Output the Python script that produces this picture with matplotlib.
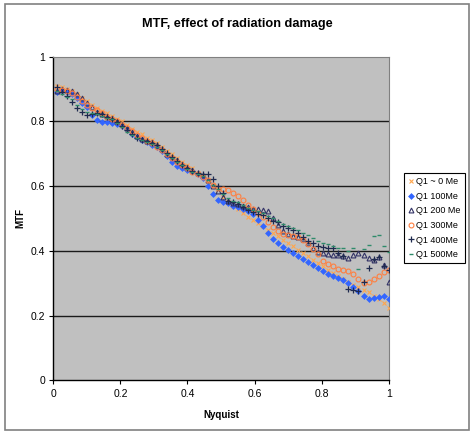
import matplotlib.pyplot as plt
from matplotlib.patches import Rectangle

plt.rcParams['font.family'] = ['Liberation Sans', 'DejaVu Sans']

# sample positions (fraction of Nyquist)
nyquist = [0.010, 0.025, 0.040, 0.055, 0.070, 0.085, 0.100, 0.115, 0.130, 0.145,
           0.160, 0.175, 0.190, 0.205, 0.220, 0.235, 0.250, 0.265, 0.280, 0.295,
           0.310, 0.325, 0.340, 0.355, 0.370, 0.385, 0.400, 0.415, 0.430, 0.445,
           0.460, 0.475, 0.490, 0.505, 0.520, 0.535, 0.550, 0.565, 0.580, 0.595,
           0.610, 0.625, 0.640, 0.655, 0.670, 0.685, 0.700, 0.715, 0.730, 0.745,
           0.760, 0.775, 0.790, 0.805, 0.820, 0.835, 0.850, 0.865, 0.880, 0.895,
           0.910, 0.925, 0.940, 0.955, 0.970, 0.985, 1.000]

mtf_0me = [0.910, 0.905, 0.900, 0.895, 0.885, 0.872, 0.862, 0.850, 0.842, 0.833,
           0.825, 0.818, 0.808, 0.800, 0.790, 0.778, 0.768, 0.760, 0.750, 0.742,
           0.733, 0.722, 0.710, 0.700, 0.688, 0.676, 0.665, 0.655, 0.642, 0.630,
           0.617, 0.603, 0.590, 0.565, 0.552, 0.540, 0.528, 0.517, 0.505, 0.494,
           0.486, 0.476, 0.466, 0.455, 0.445, 0.434, 0.424, 0.414, 0.403, 0.394,
           0.384, 0.373, 0.362, 0.352, 0.342, 0.332, 0.322, 0.313, 0.303, 0.296,
           0.288, 0.280, 0.272, 0.262, 0.250, 0.238, 0.225]

mtf_100me = [0.890, 0.895, 0.892, 0.885, 0.872, 0.858, 0.845, 0.820, 0.803, 0.798,
             0.797, 0.795, 0.793, 0.785, 0.775, 0.762, 0.752, 0.743, 0.735, 0.728,
             0.720, 0.708, 0.693, 0.675, 0.663, 0.655, 0.650, 0.646, 0.638, 0.625,
             0.600, 0.575, 0.556, 0.552, 0.547, 0.540, 0.534, 0.528, 0.522, 0.515,
             0.495, 0.476, 0.455, 0.437, 0.423, 0.412, 0.402, 0.393, 0.384, 0.375,
             0.366, 0.356, 0.347, 0.338, 0.330, 0.322, 0.316, 0.310, 0.300, 0.288,
             0.276, 0.262, 0.252, 0.253, 0.258, 0.260, 0.252]

mtf_200me = [0.895, 0.900, 0.898, 0.893, 0.885, 0.872, 0.858, 0.845, 0.830, 0.822,
             0.818, 0.812, 0.802, 0.792, 0.780, 0.768, 0.755, 0.745, 0.740, 0.735,
             0.728, 0.715, 0.700, 0.690, 0.680, 0.668, 0.658, 0.650, 0.642, 0.633,
             0.618, 0.600, 0.584, 0.566, 0.555, 0.548, 0.545, 0.540, 0.535, 0.530,
             0.528, 0.527, 0.522, 0.500, 0.480, 0.462, 0.452, 0.447, 0.443, 0.438,
             0.425, 0.410, 0.398, 0.392, 0.390, 0.388, 0.388, 0.383, 0.378, 0.388,
             0.392, 0.387, 0.378, 0.372, 0.380, 0.355, 0.305]

mtf_300me = [0.900, 0.898, 0.893, 0.888, 0.875, 0.862, 0.852, 0.842, 0.835, 0.825,
             0.815, 0.808, 0.800, 0.790, 0.780, 0.770, 0.758, 0.748, 0.740, 0.732,
             0.722, 0.712, 0.700, 0.688, 0.675, 0.665, 0.655, 0.645, 0.638, 0.628,
             0.618, 0.605, 0.595, 0.592, 0.588, 0.580, 0.568, 0.557, 0.543, 0.530,
             0.518, 0.505, 0.490, 0.475, 0.462, 0.452, 0.448, 0.445, 0.442, 0.435,
             0.420, 0.405, 0.390, 0.370, 0.360, 0.352, 0.345, 0.342, 0.338, 0.328,
             0.312, 0.302, 0.305, 0.312, 0.322, 0.335, 0.342]

mtf_400me = [0.905, 0.892, 0.878, 0.860, 0.842, 0.828, 0.820, 0.823, 0.826, 0.822,
             0.815, 0.808, 0.798, 0.786, 0.772, 0.760, 0.750, 0.742, 0.738, 0.733,
             0.726, 0.716, 0.702, 0.690, 0.678, 0.666, 0.656, 0.648, 0.642, 0.638,
             0.636, 0.622, 0.600, 0.578, 0.555, 0.550, 0.545, 0.535, 0.527, 0.520,
             0.515, 0.510, 0.500, 0.492, 0.488, 0.478, 0.470, 0.466, 0.455, 0.442,
             0.432, 0.424, 0.416, 0.411, 0.410, 0.408, 0.392, 0.385, 0.282, 0.278,
             0.275, 0.305, 0.348, 0.375, 0.380, 0.352, 0.340]

mtf_500me = [0.895, 0.885, 0.876, 0.868, 0.852, 0.838, 0.828, 0.825, 0.822, 0.818,
             0.812, 0.806, 0.796, 0.784, 0.768, 0.757, 0.748, 0.742, 0.736, 0.730,
             0.722, 0.712, 0.700, 0.688, 0.676, 0.664, 0.654, 0.645, 0.638, 0.630,
             0.618, 0.604, 0.590, 0.575, 0.563, 0.555, 0.550, 0.542, 0.533, 0.527,
             0.522, 0.516, 0.508, 0.500, 0.492, 0.484, 0.476, 0.470, 0.463, 0.455,
             0.448, 0.440, 0.432, 0.425, 0.420, 0.414, 0.410, 0.408, 0.400, 0.410,
             0.343, 0.405, 0.418, 0.447, 0.449, 0.415, 0.395]

tick_vals = [0, 0.2, 0.4, 0.6, 0.8, 1]
tick_text = ['0', '0.2', '0.4', '0.6', '0.8', '1']

fig = plt.figure(figsize=(4.74, 4.37), dpi=100)
fig.patch.set_facecolor('white')
fig.patches.append(Rectangle((0.010, 0.016), 0.980, 0.975, transform=fig.transFigure,
                             fill=False, edgecolor='#808080', lw=1.2))

ax = fig.add_axes([0.1125, 0.1297, 0.7075, 0.7406])
ax.set_facecolor('#C0C0C0')

for yv in [0.2, 0.4, 0.6, 0.8]:
    ax.axhline(yv, color='#1a1a1a', lw=1.0, zorder=1)

ms = 3.5
ax.plot(nyquist, mtf_0me, ls='none', marker='x', ms=ms, mew=0.8, color='#FFA64D',
        label='Q1 ~ 0 Me', zorder=3)
ax.plot(nyquist, mtf_100me, ls='none', marker='D', ms=ms, mew=0, color='#3366FF',
        label='Q1 100Me', zorder=3)
ax.plot(nyquist, mtf_200me, ls='none', marker='^', ms=ms, mew=0.8, mfc='none',
        mec='#333366', label='Q1 200 Me', zorder=3)
ax.plot(nyquist, mtf_300me, ls='none', marker='o', ms=ms, mew=0.8, mfc='none',
        mec='#FF7F40', label='Q1 300Me', zorder=3)
ax.plot(nyquist, mtf_400me, ls='none', marker='+', ms=ms + 1, mew=0.9, color='#1F2A4F',
        label='Q1 400Me', zorder=3)
ax.plot(nyquist, mtf_500me, ls='none', marker='_', ms=ms, mew=1.0, color='#2E8B6A',
        label='Q1 500Me', zorder=3)

ax.set_xlim(0, 1)
ax.set_ylim(0, 1)
ax.set_xticks(tick_vals)
ax.set_xticklabels(tick_text)
ax.set_yticks(tick_vals)
ax.set_yticklabels(tick_text)
ax.tick_params(direction='out', length=3, width=0.8, labelsize=7.5, pad=3,
               colors='black')
for side in ['top', 'right']:
    ax.spines[side].set_color('#808080')
    ax.spines[side].set_linewidth(0.8)
for side in ['left', 'bottom']:
    ax.spines[side].set_color('black')
    ax.spines[side].set_linewidth(1.0)

fig.text(0.5, 0.945, 'MTF, effect of radiation damage', ha='center', va='center',
         fontsize=9.2, fontweight='bold')
ax.set_xlabel('Nyquist', fontsize=7, fontweight='bold', labelpad=8)
ax.set_ylabel('MTF', fontsize=7, fontweight='bold', labelpad=4)

leg = fig.legend(loc='upper left', bbox_to_anchor=(0.852, 0.604), fontsize=6.5,
                 frameon=True, fancybox=False, edgecolor='black', framealpha=1,
                 handlelength=0.6, handletextpad=0.35, borderpad=0.45,
                 labelspacing=0.62, borderaxespad=0)
leg.get_frame().set_linewidth(0.8)

fig.savefig('out.png', dpi=100)
